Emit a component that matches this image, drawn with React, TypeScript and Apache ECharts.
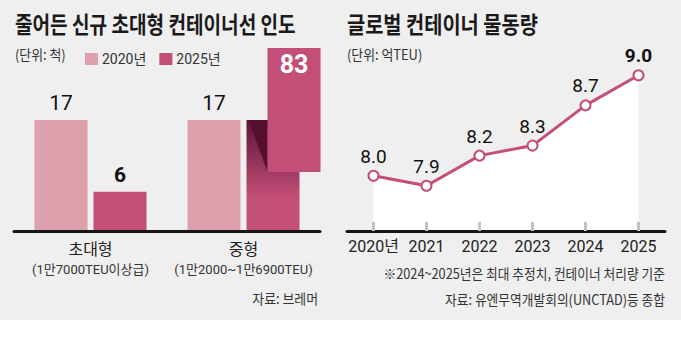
import React, { useEffect, useRef } from 'react';
import * as echarts from 'echarts';

// ---- data ----
const shipCategories = ['초대형', '중형'];
const shipSubLabels = ['(1만7000TEU이상급)', '(1만2000~1만6900TEU)'];
const ships2020 = [17, 17];
const ships2025 = [6, 83];
const years = ['2020년', '2021', '2022', '2023', '2024', '2025'];
const volume = [8.0, 7.9, 8.2, 8.3, 8.7, 9.0];

// ---- style ----
const PINK_LIGHT = '#dda0ad';
const PINK = '#c34f78';
const DARK = '#56102f';
const KR = "'Noto Sans CJK KR', sans-serif";
const NUM = "Roboto, 'Noto Sans CJK KR', sans-serif";
const BAR_W = 53;
const BAR_GAP = 6;
const Y_MAX = 28;
const FOLD_AT = 17;
const VOL_MIN = 7.45;
const VOL_MAX = 9.45;

function barRenderer(seriesIdx: number, color: string, bold: boolean) {
  return (params: any, api: any) => {
    const cat = api.value(0);
    const v = api.value(1);
    const base = api.coord([cat, 0]);
    const off = (seriesIdx === 0 ? -1 : 1) * (BAR_W + BAR_GAP) / 2;
    const x0 = base[0] + off - BAR_W / 2;
    if (v <= Y_MAX) {
      const top = api.coord([cat, v])[1];
      return {
        type: 'group',
        children: [
          { type: 'rect', shape: { x: x0, y: top, width: BAR_W, height: base[1] - top }, style: { fill: color } },
          {
            type: 'text', x: x0 + BAR_W / 2, y: top - 6,
            style: { text: String(v), align: 'center', verticalAlign: 'bottom', fontSize: 21, fontFamily: NUM, fontWeight: bold ? 'bold' : 'normal', fill: '#111' },
          },
        ],
      };
    }
    const foldTop = api.coord([cat, FOLD_AT])[1];
    const gridTop = params.coordSys.y;
    const shift = 21;
    const upperH = 124;
    return {
      type: 'group',
      children: [
        {
          type: 'rect', shape: { x: x0, y: foldTop, width: BAR_W, height: base[1] - foldTop },
          style: {
            fill: new echarts.graphic.LinearGradient(0, 0, 0, 1, [
              { offset: 0, color: '#5a1535' },
              { offset: 0.7, color: color },
              { offset: 1, color: color },
            ]),
          },
        },
        {
          type: 'polygon',
          shape: { points: [[x0 + 2, foldTop], [x0 + shift, foldTop], [x0 + shift, gridTop + upperH]] },
          style: { fill: DARK },
        },
        { type: 'rect', shape: { x: x0 + shift, y: gridTop, width: BAR_W, height: upperH }, style: { fill: color } },
        {
          type: 'text', x: x0 + shift + BAR_W / 2, y: gridTop + 16,
          style: { text: String(v), align: 'center', verticalAlign: 'middle', fontSize: 25, fontFamily: NUM, fontWeight: 'bold', fill: '#fff' },
        },
      ],
    };
  };
}

export default function App() {
  const ref = useRef<HTMLDivElement>(null);
  useEffect(() => {
    if (!ref.current) return;
    const chart = echarts.init(ref.current, null, { renderer: 'svg' });
    const txt = (text: string, x: number, y: number, size: number, opts: any = {}) => ({
      type: 'text', x, y, scaleX: opts.scaleX ?? 1,
      style: {
        text, fontSize: size, fontFamily: opts.font ?? KR, fontWeight: opts.bold ? 'bold' : 'normal',
        fill: opts.color ?? '#222', align: opts.align ?? 'left', verticalAlign: 'middle',
      },
    });
    chart.setOption({
      animation: false,
      graphic: [
        txt('줄어든 신규 초대형 컨테이너선 인도', 15, 23, 23, { bold: true, scaleX: 0.83, color: '#1a1a1a' }),
        txt('(단위: 척)', 15, 54, 14, { scaleX: 0.92, color: '#333' }),
        txt('자료: 브레머', 318, 298, 14, { align: 'right', scaleX: 0.92, color: '#333' }),
        txt('글로벌 컨테이너 물동량', 347, 23, 23, { bold: true, scaleX: 0.86, color: '#1a1a1a' }),
        txt('(단위: 억TEU)', 347, 54, 14, { scaleX: 0.92, color: '#333' }),
        txt('※2024~2025년은 최대 추정치, 컨테이너 처리량 기준', 665, 273, 14, { align: 'right', scaleX: 0.91, color: '#333' }),
        txt('자료: 유엔무역개발회의(UNCTAD)등 종합', 665, 299, 14, { align: 'right', scaleX: 0.91, color: '#333' }),
      ],
      legend: {
        left: 80, top: 47, itemWidth: 13, itemHeight: 12, itemGap: 13, icon: 'rect',
        data: ['2020년', '2025년'],
        textStyle: { fontSize: 14, fontFamily: NUM, color: '#333', padding: [0, 0, 0, -1] },
      },
      grid: [
        { left: 14, width: 306, top: 48, bottom: 120 },
        { left: 347, right: 16, top: 30, bottom: 120 },
      ],
      xAxis: [
        {
          type: 'category', gridIndex: 0, data: shipCategories, position: 'bottom', z: 10,
          axisLine: { show: true, onZero: false, lineStyle: { color: '#161616', width: 3 } },
          axisTick: { show: false },
          axisLabel: {
            interval: 0, margin: 6,
            formatter: (val: string, idx: number) => `{a|${val}}\n{b|${shipSubLabels[idx]}}`,
            rich: {
              a: { fontSize: 16, fontFamily: KR, color: '#222', lineHeight: 22 },
              b: { fontSize: 13, fontFamily: NUM, color: '#333', lineHeight: 20 },
            },
          },
        },
        {
          type: 'category', gridIndex: 1, data: years, boundaryGap: true, position: 'bottom', z: 10,
          axisLine: { show: true, onZero: false, lineStyle: { color: '#161616', width: 3 } },
          axisTick: { show: true, inside: true, length: 9, alignWithLabel: true, interval: 0, lineStyle: { color: '#c4c4c4', width: 3 } },
          axisLabel: { interval: 0, margin: 7, fontSize: 16, fontFamily: NUM, color: '#222' },
        },
      ],
      yAxis: [
        { type: 'value', gridIndex: 0, min: 0, max: Y_MAX, show: false },
        { type: 'value', gridIndex: 1, min: VOL_MIN, max: VOL_MAX, show: false },
      ],
      series: [
        {
          name: '2020년', type: 'custom', xAxisIndex: 0, yAxisIndex: 0,
          itemStyle: { color: PINK_LIGHT },
          encode: { x: 0, y: 1 },
          data: ships2020.map((v, i) => [i, v]),
          renderItem: barRenderer(0, PINK_LIGHT, false),
        },
        {
          name: '2025년', type: 'custom', xAxisIndex: 0, yAxisIndex: 0,
          itemStyle: { color: PINK },
          encode: { x: 0, y: 1 },
          data: ships2025.map((v, i) => [i, v]),
          renderItem: barRenderer(1, PINK, true),
        },
        {
          name: '물동량', type: 'line', xAxisIndex: 1, yAxisIndex: 1,
          data: volume.map((v, i) => ({
            value: v,
            label: i === volume.length - 1 ? { fontWeight: 'bold' } : undefined,
          })),
          lineStyle: { color: PINK, width: 3 },
          symbol: 'circle', symbolSize: 10,
          itemStyle: { color: '#fff', borderColor: PINK, borderWidth: 2 },
          areaStyle: { color: '#ffffff', opacity: 1 },
          label: {
            show: true, position: 'top', distance: 4, fontSize: 19, fontFamily: NUM, color: '#111',
            formatter: (p: any) => Number(p.value).toFixed(1),
          },
        },
      ],
    });
    return () => chart.dispose();
  }, []);
  return (
    <div
      ref={ref}
      style={{
        position: 'fixed', left: 0, top: 0, width: 681, height: 351,
        background: 'linear-gradient(to bottom, #efefef 0px, #efefef 320px, #ffffff 320px, #ffffff 351px)',
      }}
    />
  );
}
